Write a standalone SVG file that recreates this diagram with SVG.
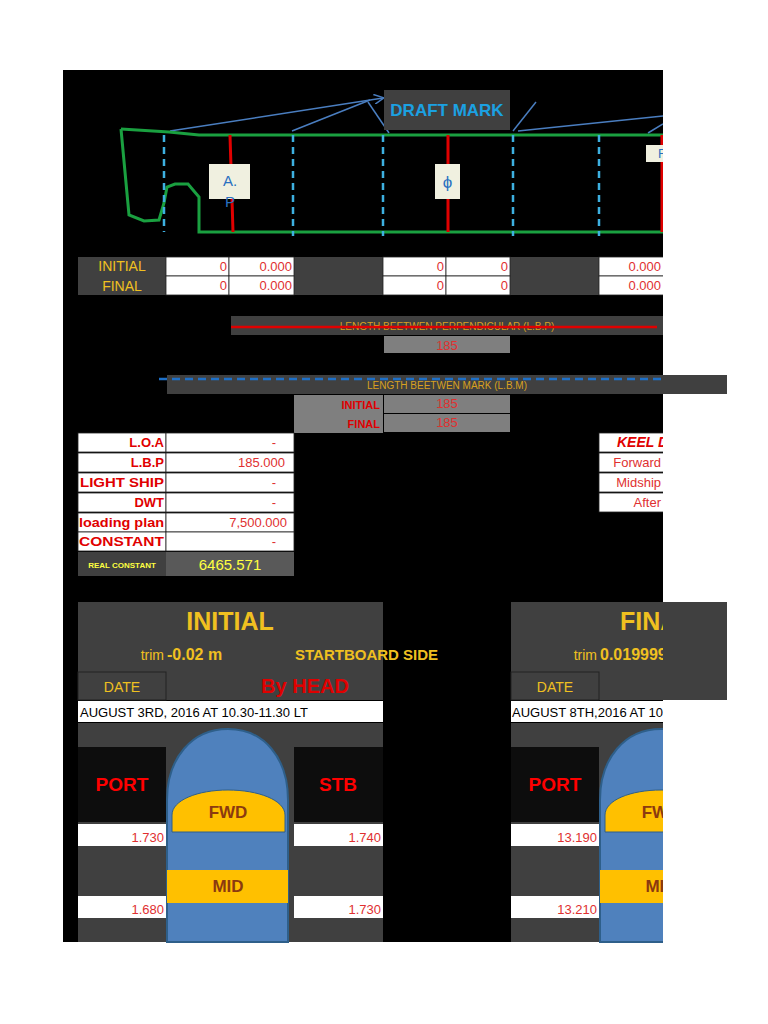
<svg xmlns="http://www.w3.org/2000/svg" width="768" height="1024" viewBox="0 0 768 1024">
<defs>
<style>
text{font-family:"Liberation Sans",Arial,sans-serif}
.g{fill:#404040}
.w{fill:#fff;stroke:#222;stroke-width:0.8}
.r{fill:#e03030;font-size:13px}
.rb{fill:#e00000;font-size:13px;font-weight:bold}
.y{fill:#f0c020}
.bl{stroke:#4a7ec0;stroke-width:1.5;fill:none}
.dash{stroke:#3db0e0;stroke-width:2.5;stroke-dasharray:7 5}
.red{stroke:#e00000;stroke-width:3}
.ship{fill:#4f81bd;stroke:#2e5f8a;stroke-width:2}
.cap{fill:#ffc000;stroke:#2e5f8a;stroke-width:1}
.cap2{fill:#ffc000}
</style>
<marker id="ah" markerWidth="10" markerHeight="10" refX="9" refY="5" orient="auto" markerUnits="userSpaceOnUse"><path d="M0,0 L10,5 L0,10" fill="none" stroke="#4a7ec0" stroke-width="1.5"/></marker>
<clipPath id="c"><rect x="0" y="0" width="663" height="1024"/></clipPath>
</defs>
<rect width="768" height="1024" fill="#fff"/>
<rect x="63" y="70" width="600" height="872" fill="#000"/>
<g id="overhang">
<rect x="167" y="375" width="560" height="19" class="g"/>
<rect x="511" y="602" width="216" height="98" class="g"/>
</g>
<g clip-path="url(#c)">
<g id="connectors">
<line x1="170" y1="131" x2="383" y2="98" class="bl" marker-end="url(#ah)"/>
<line x1="292" y1="131" x2="370" y2="100" class="bl"/>
<line x1="389" y1="133" x2="368" y2="102" class="bl"/>
<line x1="513" y1="131" x2="536" y2="102" class="bl"/>
<line x1="518" y1="131" x2="663" y2="116" class="bl"/>
<line x1="648" y1="133" x2="663" y2="124" class="bl"/>
</g>
<g id="hull">
<polyline points="121,129 169,132 199,135 663,135" fill="none" stroke="#1aa040" stroke-width="3"/>
<polyline points="121,129 129,215 144,221 159,220 164,203 167,187 175,184 188,184 199,197 199,232 663,232" fill="none" stroke="#1aa040" stroke-width="3"/>
<line x1="164" y1="135" x2="164" y2="232" class="dash"/>
<line x1="293" y1="135" x2="293" y2="236" class="dash"/>
<line x1="383" y1="135" x2="383" y2="236" class="dash"/>
<line x1="513" y1="135" x2="513" y2="236" class="dash"/>
<line x1="599" y1="135" x2="599" y2="236" class="dash"/>
<line x1="230" y1="135" x2="233" y2="232" class="red"/>
<line x1="448" y1="135" x2="448" y2="232" class="red"/>
<line x1="662" y1="135" x2="662" y2="232" class="red"/>
</g>
<g id="draftmark"><rect x="384" y="90" width="126" height="40" class="g"/><text x="447" y="116" text-anchor="middle" font-size="17" font-weight="bold" fill="#1ba1e2">DRAFT MARK</text></g>
<g id="ap"><rect x="209" y="164" width="41" height="35" fill="#f0f0e0"/><text x="230" y="186" text-anchor="middle" font-size="15" fill="#2a70c0">A.</text><text x="230" y="207" text-anchor="middle" font-size="15" fill="#2a70c0">P</text></g>
<g id="mid"><rect x="435" y="164" width="25" height="35" fill="#f0f0e0"/><text x="447.5" y="188" text-anchor="middle" font-size="17" fill="#2a70c0">ϕ</text></g>
<g id="fp"><rect x="646" y="145" width="20" height="17" fill="#f0f0e0"/><text x="658" y="158" font-size="13" fill="#2a70c0">F</text></g>

<g id="drafttable">
<rect x="78" y="257" width="88" height="38" class="g"/>
<text x="122" y="271" text-anchor="middle" font-size="14" class="y">INITIAL</text>
<text x="122" y="291" text-anchor="middle" font-size="14" class="y">FINAL</text>
<rect x="294" y="257" width="89" height="38" class="g"/>
<rect x="510" y="257" width="89" height="38" class="g"/>
<rect x="166" y="257" width="63" height="19" class="w"/><rect x="229" y="257" width="65" height="19" class="w"/>
<rect x="166" y="276" width="63" height="19" class="w"/><rect x="229" y="276" width="65" height="19" class="w"/>
<rect x="383" y="257" width="63" height="19" class="w"/><rect x="446" y="257" width="64" height="19" class="w"/>
<rect x="383" y="276" width="63" height="19" class="w"/><rect x="446" y="276" width="64" height="19" class="w"/>
<rect x="599" y="257" width="70" height="19" class="w"/><rect x="599" y="276" width="70" height="19" class="w"/>
<text x="227" y="271" text-anchor="end" class="r">0</text><text x="292" y="271" text-anchor="end" class="r">0.000</text>
<text x="227" y="290" text-anchor="end" class="r">0</text><text x="292" y="290" text-anchor="end" class="r">0.000</text>
<text x="444" y="271" text-anchor="end" class="r">0</text><text x="508" y="271" text-anchor="end" class="r">0</text>
<text x="444" y="290" text-anchor="end" class="r">0</text><text x="508" y="290" text-anchor="end" class="r">0</text>
<text x="661" y="271" text-anchor="end" class="r">0.000</text><text x="661" y="290" text-anchor="end" class="r">0.000</text>
</g>

<g id="lbp">
<rect x="231" y="316" width="440" height="19" class="g"/>
<text x="447" y="330" text-anchor="middle" font-size="10" fill="#d8a020">LENGTH BEETWEN PERPENDICULAR (L.B.P)</text>
<line x1="231" y1="327" x2="657" y2="327" stroke="#e00000" stroke-width="2.5"/>
<rect x="384" y="336" width="126" height="17" fill="#7f7f7f"/>
<text x="447" y="350" text-anchor="middle" class="r">185</text>
</g>
<g id="lbm">
<text x="447" y="389" text-anchor="middle" font-size="10" fill="#d8a020">LENGTH BEETWEN MARK (L.B.M)</text>
<line x1="159" y1="379" x2="663" y2="379" stroke="#1e70c8" stroke-width="2.5" stroke-dasharray="8 5"/>
<rect x="294" y="395" width="89" height="38" fill="#7f7f7f"/>
<rect x="384" y="395" width="126" height="18" fill="#7f7f7f"/>
<rect x="384" y="414" width="126" height="18" fill="#7f7f7f"/>
<text x="380" y="409" text-anchor="end" font-size="11" font-weight="bold" fill="#e00000">INITIAL</text>
<text x="380" y="428" text-anchor="end" font-size="11" font-weight="bold" fill="#e00000">FINAL</text>
<text x="447" y="408" text-anchor="middle" class="r">185</text>
<text x="447" y="427" text-anchor="middle" class="r">185</text>
</g>

<g id="particulars">
<rect x="78" y="433" width="88" height="19" class="w"/><rect x="166" y="433" width="128" height="19" class="w"/>
<rect x="78" y="453" width="88" height="19" class="w"/><rect x="166" y="453" width="128" height="19" class="w"/>
<rect x="78" y="473" width="88" height="19" class="w"/><rect x="166" y="473" width="128" height="19" class="w"/>
<rect x="78" y="493" width="88" height="19" class="w"/><rect x="166" y="493" width="128" height="19" class="w"/>
<rect x="78" y="513" width="88" height="19" class="w"/><rect x="166" y="513" width="128" height="19" class="w"/>
<rect x="78" y="532" width="88" height="19" class="w"/><rect x="166" y="532" width="128" height="19" class="w"/>
<text x="164" y="447" text-anchor="end" class="rb">L.O.A</text>
<text x="164" y="467" text-anchor="end" class="rb">L.B.P</text>
<text x="164" y="487" text-anchor="end" class="rb" textLength="84" lengthAdjust="spacingAndGlyphs">LIGHT SHIP</text>
<text x="164" y="507" text-anchor="end" class="rb">DWT</text>
<text x="164" y="527" text-anchor="end" class="rb" textLength="85" lengthAdjust="spacingAndGlyphs">loading plan</text>
<text x="164" y="546" text-anchor="end" class="rb" textLength="85" lengthAdjust="spacingAndGlyphs">CONSTANT</text>
<text x="276" y="447" text-anchor="end" class="r">-</text>
<text x="285" y="467" text-anchor="end" class="r">185.000</text>
<text x="276" y="487" text-anchor="end" class="r">-</text>
<text x="276" y="507" text-anchor="end" class="r">-</text>
<text x="287" y="527" text-anchor="end" class="r">7,500.000</text>
<text x="276" y="546" text-anchor="end" class="r">-</text>
<rect x="78" y="552" width="88" height="24" class="g"/><rect x="166" y="552" width="128" height="24" fill="#595959"/>
<text x="122" y="568" text-anchor="middle" font-size="8" font-weight="bold" fill="#ffff40">REAL CONSTANT</text>
<text x="230" y="570" text-anchor="middle" font-size="15" fill="#ffff40">6465.571</text>
</g>

<g id="keel">
<rect x="599" y="433" width="70" height="19" class="w"/><rect x="599" y="453" width="70" height="19" class="w"/>
<rect x="599" y="473" width="70" height="19" class="w"/><rect x="599" y="493" width="70" height="19" class="w"/>
<text x="617" y="447" font-size="14" font-weight="bold" font-style="italic" fill="#e00000">KEEL D</text>
<text x="661" y="467" text-anchor="end" class="r">Forward</text>
<text x="661" y="487" text-anchor="end" class="r">Midship</text>
<text x="661" y="507" text-anchor="end" class="r">After</text>
</g>

<g id="initial">
<rect x="78" y="602" width="305" height="98" class="g"/>
<text x="230" y="630" text-anchor="middle" font-size="25" font-weight="bold" class="y">INITIAL</text>
<text x="164" y="660" text-anchor="end" font-size="14" class="y">trim</text>
<text x="167" y="660" font-size="16" font-weight="bold" class="y">-0.02 m</text>
<text x="295" y="660" font-size="15" font-weight="bold" class="y">STARTBOARD SIDE</text>
<rect x="78" y="672" width="88" height="28" fill="#404040" stroke="#222"/>
<text x="122" y="692" text-anchor="middle" font-size="14" class="y">DATE</text>
<text x="305" y="693" text-anchor="middle" font-size="20" font-weight="bold" fill="#e00000">By HEAD</text>
<rect x="78" y="701" width="305" height="21" fill="#fff"/>
<text x="80" y="717" font-size="13" fill="#000">AUGUST 3RD, 2016 AT 10.30-11.30 LT</text>
<rect x="78" y="723" width="305" height="219" class="g"/>
<rect x="78" y="747" width="88" height="75" fill="#0d0d0d"/>
<rect x="294" y="747" width="89" height="75" fill="#0d0d0d"/>
<text x="122" y="791" text-anchor="middle" font-size="19" font-weight="bold" fill="#ff0000">PORT</text>
<text x="338" y="791" text-anchor="middle" font-size="19" font-weight="bold" fill="#ff0000">STB</text>
<rect x="78" y="824" width="88" height="22" fill="#fff"/><rect x="294" y="824" width="89" height="22" fill="#fff"/>
<rect x="78" y="896" width="88" height="22" fill="#fff"/><rect x="294" y="896" width="89" height="22" fill="#fff"/>
<text x="164" y="842" text-anchor="end" class="r">1.730</text><text x="381" y="842" text-anchor="end" class="r">1.740</text>
<text x="164" y="914" text-anchor="end" class="r">1.680</text><text x="381" y="914" text-anchor="end" class="r">1.730</text>
<path d="M167,942 L167,800 C167,758 192,729 228,729 C264,729 288,758 288,800 L288,942 Z" class="ship"/>
<path d="M172,832 L172,815 C172,800 198,790 228,790 C258,790 285,800 285,815 L285,832 Z" class="cap"/>
<text x="228" y="818" text-anchor="middle" font-size="17" font-weight="bold" fill="#8b3a10">FWD</text>
<rect x="167" y="870" width="121" height="33" class="cap2"/>
<text x="228" y="892" text-anchor="middle" font-size="17" font-weight="bold" fill="#8b3a10">MID</text>
</g>

<g id="final">
<text x="620" y="630" font-size="25" font-weight="bold" class="y">FINAL</text>
<text x="597" y="660" text-anchor="end" font-size="14" class="y">trim</text>
<text x="600" y="660" font-size="16" font-weight="bold" class="y">0.019999</text>
<rect x="511" y="672" width="88" height="28" fill="#404040" stroke="#222"/>
<text x="555" y="692" text-anchor="middle" font-size="14" class="y">DATE</text>
<rect x="511" y="701" width="152" height="21" fill="#fff"/>
<text x="512" y="717" font-size="13" fill="#000">AUGUST 8TH,2016 AT 10.30</text>
<rect x="511" y="723" width="152" height="219" class="g"/>
<rect x="511" y="747" width="88" height="75" fill="#0d0d0d"/>
<text x="555" y="791" text-anchor="middle" font-size="19" font-weight="bold" fill="#ff0000">PORT</text>
<rect x="511" y="824" width="88" height="22" fill="#fff"/><rect x="511" y="896" width="88" height="22" fill="#fff"/>
<text x="597" y="842" text-anchor="end" class="r">13.190</text><text x="597" y="914" text-anchor="end" class="r">13.210</text>
<path d="M600,942 L600,800 C600,758 625,729 661,729 C697,729 721,758 721,800 L721,942 Z" class="ship"/>
<path d="M605,832 L605,815 C605,800 631,790 661,790 C691,790 718,800 718,815 L718,832 Z" class="cap"/>
<text x="661" y="818" text-anchor="middle" font-size="17" font-weight="bold" fill="#8b3a10">FWD</text>
<rect x="600" y="870" width="121" height="33" class="cap2"/>
<text x="661" y="892" text-anchor="middle" font-size="17" font-weight="bold" fill="#8b3a10">MID</text>
</g>
</g>
</svg>
